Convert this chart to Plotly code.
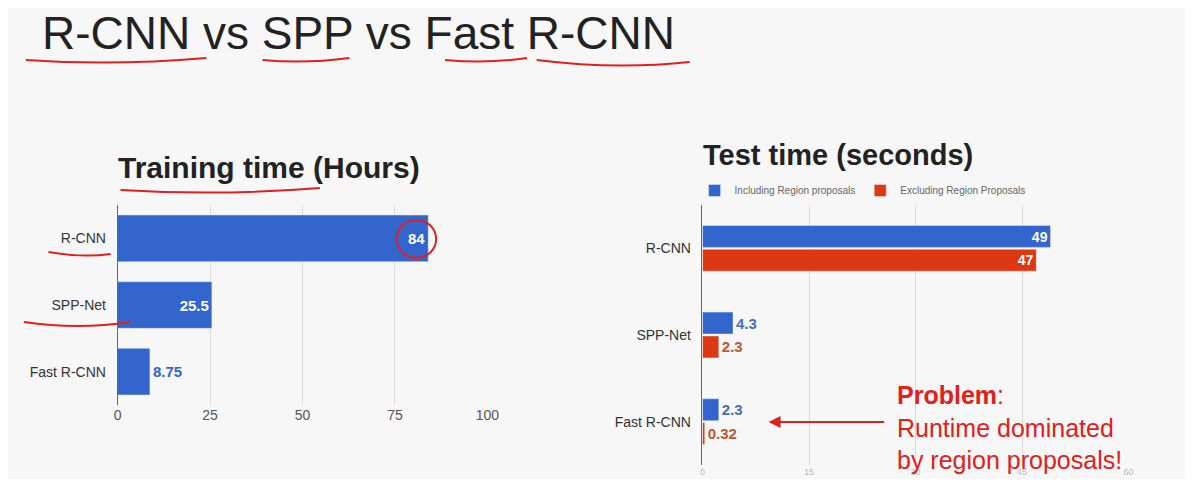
import plotly.graph_objects as go

train_models = ['Fast R-CNN', 'SPP-Net', 'R-CNN']
train_hours = [8.75, 25.5, 84]
train_labels = ['8.75', '25.5', '84']

test_models = ['Fast R-CNN', 'SPP-Net', 'R-CNN']
test_incl = [2.3, 4.3, 49]
test_incl_labels = ['2.3', '4.3', '49']
test_excl = [0.32, 2.3, 47]
test_excl_labels = ['0.32', '2.3', '47']

BLUE = '#3366cc'
ORANGE = '#dc3912'
# page has an 8px body margin; work in screenshot pixel coordinates
OFF = 8
W, H = 1193 - 2 * OFF, 487 - 2 * OFF

def px(x):
    return (x - OFF) / W

def py(y):
    return 1 - (y - OFF) / H

def to_paper(path):
    toks = path.split()
    out = []
    i = 0
    while i < len(toks):
        if toks[i].isalpha():
            out.append(toks[i])
            i += 1
        else:
            out.append(f'{px(float(toks[i])):.4f},{py(float(toks[i+1])):.4f}')
            i += 2
    return ' '.join(out)

fig = go.Figure()

# training time
fig.add_trace(go.Bar(
    y=train_models, x=train_hours, orientation='h', width=0.7,
    marker_color=BLUE, text=train_labels, textposition=['outside', 'inside', 'inside'],
    insidetextanchor='end', textangle=0, cliponaxis=False,
    textfont=dict(size=15, family='Arial', color=[BLUE, 'white', 'white'], weight='bold'),
    showlegend=False, xaxis='x', yaxis='y'))

# test time (excl first so it sits below)
fig.add_trace(go.Bar(
    y=test_models, x=test_excl, orientation='h', name='Excluding Region Proposals',
    marker_color=ORANGE, text=test_excl_labels, textposition=['outside', 'outside', 'inside'],
    insidetextanchor='end', textangle=0, cliponaxis=False,
    textfont=dict(size=15, family='Arial', color=['#c0552e', '#c0552e', 'white'], weight='bold'),
    xaxis='x2', yaxis='y2'))
fig.add_trace(go.Bar(
    y=test_models, x=test_incl, orientation='h', name='Including Region proposals',
    marker_color=BLUE, text=test_incl_labels, textposition=['outside', 'outside', 'inside'],
    insidetextanchor='end', textangle=0, cliponaxis=False,
    textfont=dict(size=15, family='Arial', color=['#4a6fb5', '#4a6fb5', 'white'], weight='bold'),
    xaxis='x2', yaxis='y2'))

grid = '#dcdcdc'
fig.update_layout(
    width=W, height=H, margin=dict(l=0, r=0, t=0, b=0),
    paper_bgcolor='#f7f7f7', plot_bgcolor='#f7f7f7',
    font=dict(family='Arial', color='#444'),
    barmode='group', bargap=0.45, bargroupgap=0.08,
    xaxis=dict(domain=[px(115), px(490)], range=[0, 100], tickvals=[0, 25, 50, 75, 100],
               gridcolor=grid, zeroline=False, tickfont=dict(size=14, color='#555'),
               anchor='y'),
    yaxis=dict(domain=[py(405), py(205)], showgrid=False, tickfont=dict(size=14, color='#333'),
               ticksuffix='  ', showline=True, linecolor='#666', anchor='x'),
    xaxis2=dict(domain=[px(708), px(1140)], range=[0, 60], tickvals=[0, 15, 30, 45, 60],
                gridcolor=grid, zeroline=False, tickfont=dict(size=9, color='#bbb'),
                anchor='y2'),
    yaxis2=dict(domain=[py(465), py(205)], showgrid=False, tickfont=dict(size=14, color='#333'),
                ticksuffix='  ', showline=True, linecolor='#666', anchor='x2'),
    legend=dict(orientation='h', x=px(700), y=py(176), yanchor='top', traceorder='reversed',
                font=dict(size=10, color='#666'), bgcolor='rgba(0,0,0,0)'),
)

fig.add_annotation(text='R-CNN vs SPP vs Fast R-CNN', x=px(36), y=py(33), xref='paper', yref='paper',
                   xanchor='left', yanchor='middle', showarrow=False,
                   font=dict(size=46, family='Arial', color='#222'))
fig.add_annotation(text='<b>Training time (Hours)</b>', x=px(113), y=py(168), xref='paper', yref='paper',
                   xanchor='left', yanchor='middle', showarrow=False,
                   font=dict(size=30, family='Arial', color='#222'))
fig.add_annotation(text='<b>Test time (seconds)</b>', x=px(706), y=py(155), xref='paper', yref='paper',
                   xanchor='left', yanchor='middle', showarrow=False,
                   font=dict(size=29, family='Arial', color='#222'))
fig.add_annotation(text='<b>Problem</b>:<br>Runtime dominated<br>by region proposals!',
                   x=px(903), y=py(427), xref='paper', yref='paper', align='left',
                   xanchor='left', yanchor='middle', showarrow=False,
                   font=dict(size=25, family='Arial', color='#e0201a'))
fig.add_annotation(x=px(775), y=py(422), ax=117, ay=0, xref='paper', yref='paper',
                   text='', showarrow=True,
                   arrowhead=2, arrowsize=1.2, arrowwidth=2, arrowcolor='#e0201a')

# red hand-drawn underlines and marks (pixel coords)
red = '#e02020'
paths = [
    'M 22 60 Q 110 66 205 58',
    'M 262 60 Q 305 64 350 58',
    'M 447 60 Q 490 64 530 58',
    'M 540 60 Q 620 70 695 62',
    'M 118 190 Q 220 196 320 188',
    'M 45 252 Q 80 258 108 254',
    'M 20 322 Q 75 330 128 322',
]
for p in paths:
    fig.add_shape(type='path', path=to_paper(p), xref='paper', yref='paper',
                  line=dict(color=red, width=2))
fig.add_shape(type='circle', xref='paper', yref='paper', x0=px(398), x1=px(438), y0=py(258),
              y1=py(220), line=dict(color=red, width=2))

fig.write_html('out.html')
